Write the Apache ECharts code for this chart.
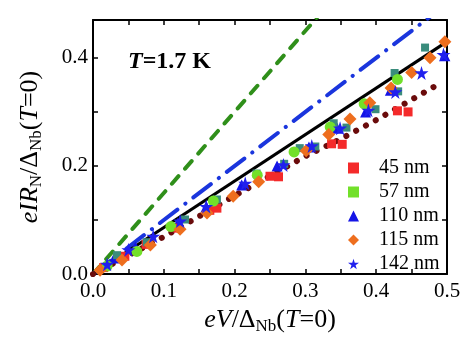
<!DOCTYPE html>
<html>
<head>
<meta charset="utf-8">
<script src="https://cdn.jsdelivr.net/npm/echarts@6/dist/echarts.min.js"></script>
<style>html,body{margin:0;padding:0;background:#fff}#c{width:474px;height:346px}</style>
</head>
<body>
<div id="c"></div>
<script>
// ---- data ----
var xTicks = [0.0, 0.1, 0.2, 0.3, 0.4, 0.5];
var yTicks = [0.0, 0.2, 0.4];
var greenLine = [[0, 0], [0.5, 0.75]];
var blueLine = [[0, 0], [0.5, 0.5]];
var blackLine = [[0, 0], [0.5, 0.43]];
var brownLine = [[0, 0], [0.1, 0.069], [0.2, 0.145], [0.3, 0.218], [0.35, 0.25], [0.4, 0.285], [0.485, 0.349]];
var s45 = [[0.015,0.012],[0.045,0.033],[0.075,0.055],[0.12,0.085],[0.165,0.118],[0.175,0.122],[0.25,0.181],[0.262,0.18],[0.337,0.241],[0.352,0.24],[0.43,0.302],[0.445,0.3]];
var s57 = [[0.02,0.015],[0.062,0.042],[0.11,0.088],[0.17,0.135],[0.232,0.183],[0.284,0.226],[0.335,0.272],[0.383,0.315],[0.43,0.36]];
var sTeal = [[0.034,0.035],[0.076,0.059],[0.13,0.101],[0.175,0.138],[0.231,0.186],[0.27,0.204],[0.292,0.233],[0.314,0.236],[0.34,0.279],[0.358,0.271],[0.399,0.305],[0.426,0.372],[0.431,0.338],[0.469,0.419]];
var s110 = [[0.03,0.03],[0.06,0.05],[0.12,0.095],[0.16,0.125],[0.21,0.165],[0.26,0.2],[0.305,0.235],[0.345,0.27],[0.385,0.3],[0.42,0.34],[0.497,0.404]];
var s115 = [[0.01,0.007],[0.041,0.026],[0.081,0.054],[0.123,0.083],[0.161,0.113],[0.198,0.144],[0.234,0.171],[0.301,0.228],[0.333,0.258],[0.363,0.287],[0.391,0.317],[0.421,0.344],[0.45,0.373],[0.476,0.4],[0.497,0.43]];
var s142 = [[0.02,0.018],[0.05,0.045],[0.085,0.07],[0.123,0.098],[0.16,0.125],[0.215,0.168],[0.269,0.202],[0.309,0.237],[0.349,0.27],[0.389,0.303],[0.427,0.337],[0.464,0.372],[0.495,0.406]];
var legendNames = ['45 nm', '57 nm', '110 nm', '115 nm', '142 nm'];

var FONT = '"Liberation Serif","Times New Roman",serif';
var STAR = 'path://M50,0 L61,35 L98,35 L68,57 L79,91 L50,70 L21,91 L32,57 L2,35 L39,35 Z';

function tickFmt(list) {
  return function (v) {
    for (var i = 0; i < list.length; i++) if (Math.abs(list[i] - v) < 1e-6) return list[i].toFixed(1);
    return '';
  };
}
var mainSty = {fontFamily: FONT, fontSize: 26, color: '#000', lineHeight: 28, padding: [0, 0, 8, 0], verticalAlign: 'top'};
var itSty = Object.assign({}, mainSty, {fontStyle: 'italic'});
var subSty = {fontFamily: FONT, fontSize: 17, color: '#000', lineHeight: 16, verticalAlign: 'bottom'};
var richName = {m: mainSty, i: itSty, s: subSty};

function baseAxis(pos, show) {
  return {
    type: 'value', position: pos,
    axisLine: {show: true, onZero: false, lineStyle: {color: '#000', width: 2}},
    axisTick: {show: true, inside: true, length: 5, lineStyle: {color: '#000', width: 1.5}},
    splitLine: {show: false},
    axisLabel: {show: show, fontFamily: FONT, fontSize: 21, color: '#000'}
  };
}

var xA = baseAxis('bottom', true);
Object.assign(xA, {min: 0, max: 0.5, interval: 0.05, name: '{i|eV}{m|/Δ}{s|Nb}{m|(}{i|T}{m|=0)}', nameLocation: 'middle', nameGap: 29, nameTextStyle: {rich: richName}});
xA.axisLabel.formatter = tickFmt(xTicks);
xA.axisLabel.margin = 7;
var xB = baseAxis('top', false);
Object.assign(xB, {min: 0, max: 0.5, interval: 0.05});
var yA = baseAxis('left', true);
Object.assign(yA, {min: 0, max: 0.47, interval: 0.1, name: '{i|eIR}{s|N}{m|/Δ}{s|Nb}{m|(}{i|T}{m|=0)}', nameLocation: 'middle', nameRotate: 90, nameGap: 34, nameTextStyle: {rich: richName}});
yA.axisLabel.formatter = tickFmt(yTicks);
yA.axisLabel.showMaxLabel = false;
yA.axisLabel.margin = 5;
var yB = baseAxis('right', false);
Object.assign(yB, {min: 0, max: 0.47, interval: 0.1});

function lineSeries(data, color, type, width, cap) {
  return {type: 'line', data: data, showSymbol: false, silent: true, clip: true, z: 2,
    lineStyle: {color: color, width: width, type: type, cap: cap || 'butt'}};
}
function sc(name, data, symbol, size, color) {
  return {type: 'scatter', name: name, data: data, symbol: symbol, symbolSize: size, z: 3,
    itemStyle: {color: color, opacity: 1}};
}

var chart = echarts.init(document.getElementById('c'), null, {renderer: 'canvas'});
chart.setOption({
  animation: false,
  backgroundColor: '#fff',
  grid: {left: 93, right: 27, top: 20, bottom: 67},
  xAxis: [xA, xB],
  yAxis: [yA, yB],
  legend: {
    orient: 'vertical', left: 343, top: 153, itemWidth: 11, itemHeight: 11, itemGap: 4,
    data: [{name: '45 nm'}, {name: '57 nm', icon: 'rect'}, {name: '110 nm'}, {name: '115 nm'}, {name: '142 nm'}],
    formatter: function (n) { return '{a|' + n + '}'; },
    textStyle: {fontFamily: FONT, fontSize: 20, color: '#000',
      rich: {a: {fontFamily: FONT, fontSize: 20, color: '#000', lineHeight: 19.5, padding: [0, 0, 0, 15]}}}
  },
  graphic: [{
    type: 'text', left: 128, top: 50,
    style: {text: '{t|T}{k|=1.7 K}', rich: {
      t: {fontFamily: FONT, fontSize: 24, fontWeight: 'bold', fontStyle: 'italic', fill: '#000'},
      k: {fontFamily: FONT, fontSize: 24, fontWeight: 'bold', fill: '#000'}}}
  }],
  series: [
    lineSeries(greenLine, '#2f8f1a', [10, 10], 4, 'round'),
    lineSeries(blueLine, '#1a35dd', [22, 10, 0.1, 10], 4, 'round'),
    lineSeries(blackLine, '#000', 'solid', 3),
    lineSeries(brownLine, '#6a0b0b', [0.1, 11], 6, 'round'),
    sc('110 nm', s110, 'triangle', 11, '#1414e6'),
    sc('45 nm', s45, 'rect', 9, '#f42a2a'),
    sc('teal', sTeal, 'rect', 8, '#3a8c7c'),
    sc('57 nm', s57, 'circle', 11, '#72e02a'),
    sc('115 nm', s115, 'diamond', 13, '#ee6e1e'),
    sc('142 nm', s142, STAR, 14, '#2020ee')
  ]
});
</script>
</body>
</html>
